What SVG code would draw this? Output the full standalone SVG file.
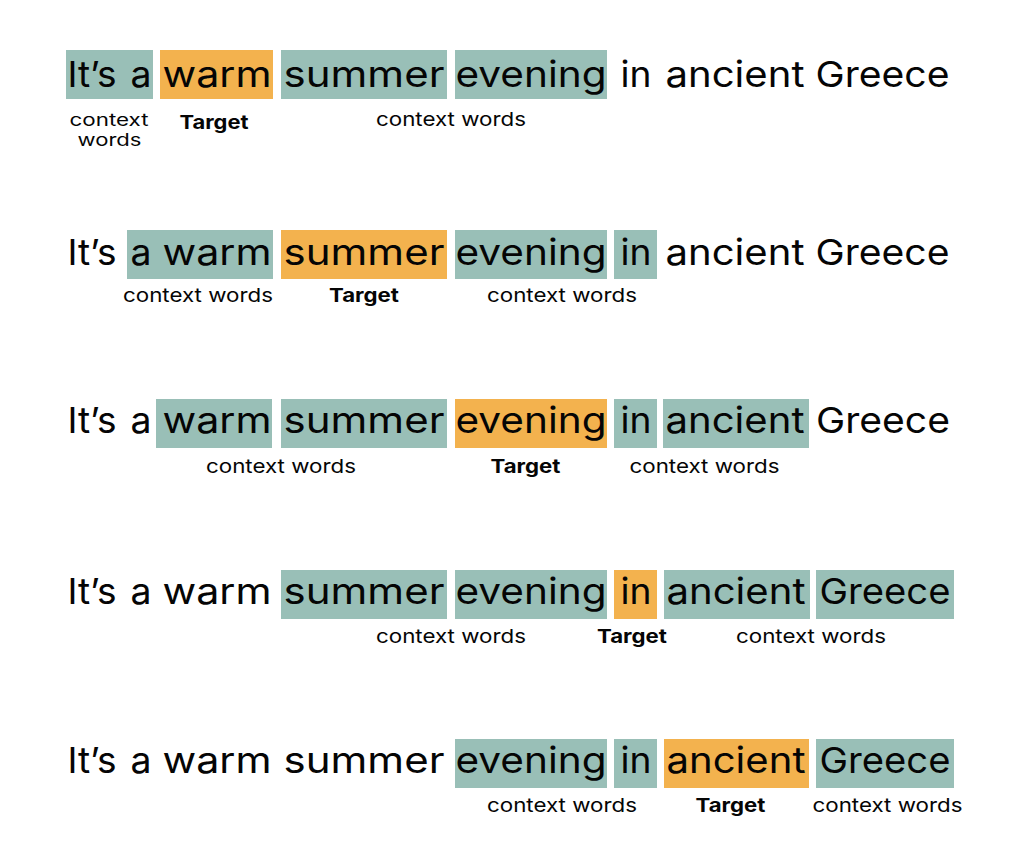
<svg xmlns="http://www.w3.org/2000/svg" width="1024" height="867" viewBox="0 0 1024 867">
<style>
.bg{fill:#ffffff}
.ctx{fill:#99BFB7}
.tgt{fill:#F3B24E}
.w{font-family:Inter,"Open Sans","Liberation Sans",sans-serif;font-size:36px;fill:#050505;text-anchor:middle}
.l{font-family:Inter,"Open Sans","Liberation Sans",sans-serif;font-size:19px;fill:#050505;text-anchor:middle}
.s{font-size:17px}
.b{font-weight:bold}
</style>
<rect class="bg" x="0" y="0" width="1024" height="867"/>

<g id="row1">
<rect class="ctx" x="66" y="50" width="87" height="49"/>
<rect class="tgt" x="160" y="50" width="113" height="49"/>
<rect class="ctx" x="281" y="50" width="166" height="49"/>
<rect class="ctx" x="455" y="50" width="152" height="49"/>
<text class="w" x="92" y="87" textLength="49" lengthAdjust="spacingAndGlyphs">It’s</text>
<text class="w" x="141" y="87" textLength="21" lengthAdjust="spacingAndGlyphs">a</text>
<text class="w" x="217" y="87" textLength="109" lengthAdjust="spacingAndGlyphs">warm</text>
<text class="w" x="364" y="87" textLength="161" lengthAdjust="spacingAndGlyphs">summer</text>
<text class="w" x="531" y="87" textLength="151" lengthAdjust="spacingAndGlyphs">evening</text>
<text class="w" x="636" y="87" textLength="31" lengthAdjust="spacingAndGlyphs">in</text>
<text class="w" x="735" y="87" textLength="139" lengthAdjust="spacingAndGlyphs">ancient</text>
<text class="w" x="882.5" y="87" textLength="134" lengthAdjust="spacingAndGlyphs">Greece</text>
<text class="l s" x="109" y="126" textLength="79" lengthAdjust="spacingAndGlyphs">context</text>
<text class="l s" x="109.5" y="146" textLength="64" lengthAdjust="spacingAndGlyphs">words</text>
<text class="l b" x="214" y="129" textLength="69" lengthAdjust="spacingAndGlyphs">Target</text>
<text class="l" x="451" y="126" textLength="150" lengthAdjust="spacingAndGlyphs">context words</text>
</g>

<g id="row2">
<rect class="ctx" x="127" y="230" width="146" height="49"/>
<rect class="tgt" x="281" y="230" width="166" height="49"/>
<rect class="ctx" x="455" y="230" width="152" height="49"/>
<rect class="ctx" x="614" y="230" width="43" height="49"/>
<text class="w" x="92" y="264.5" textLength="49" lengthAdjust="spacingAndGlyphs">It’s</text>
<text class="w" x="141" y="264.5" textLength="21" lengthAdjust="spacingAndGlyphs">a</text>
<text class="w" x="217" y="264.5" textLength="109" lengthAdjust="spacingAndGlyphs">warm</text>
<text class="w" x="364" y="264.5" textLength="161" lengthAdjust="spacingAndGlyphs">summer</text>
<text class="w" x="531" y="264.5" textLength="151" lengthAdjust="spacingAndGlyphs">evening</text>
<text class="w" x="636" y="264.5" textLength="31" lengthAdjust="spacingAndGlyphs">in</text>
<text class="w" x="735" y="264.5" textLength="139" lengthAdjust="spacingAndGlyphs">ancient</text>
<text class="w" x="882.5" y="264.5" textLength="134" lengthAdjust="spacingAndGlyphs">Greece</text>
<text class="l" x="198" y="302" textLength="150" lengthAdjust="spacingAndGlyphs">context words</text>
<text class="l b" x="364" y="302" textLength="70" lengthAdjust="spacingAndGlyphs">Target</text>
<text class="l" x="562" y="302" textLength="150" lengthAdjust="spacingAndGlyphs">context words</text>
</g>

<g id="row3">
<rect class="ctx" x="156" y="399" width="116" height="49"/>
<rect class="ctx" x="281" y="399" width="166" height="49"/>
<rect class="tgt" x="455" y="399" width="152" height="49"/>
<rect class="ctx" x="614" y="399" width="43" height="49"/>
<rect class="ctx" x="663" y="399" width="146" height="49"/>
<text class="w" x="92" y="433" textLength="49" lengthAdjust="spacingAndGlyphs">It’s</text>
<text class="w" x="141" y="433" textLength="21" lengthAdjust="spacingAndGlyphs">a</text>
<text class="w" x="217" y="433" textLength="109" lengthAdjust="spacingAndGlyphs">warm</text>
<text class="w" x="364" y="433" textLength="161" lengthAdjust="spacingAndGlyphs">summer</text>
<text class="w" x="531" y="433" textLength="151" lengthAdjust="spacingAndGlyphs">evening</text>
<text class="w" x="636" y="433" textLength="31" lengthAdjust="spacingAndGlyphs">in</text>
<text class="w" x="735" y="433" textLength="139" lengthAdjust="spacingAndGlyphs">ancient</text>
<text class="w" x="883" y="433" textLength="134" lengthAdjust="spacingAndGlyphs">Greece</text>
<text class="l" x="281" y="473" textLength="150" lengthAdjust="spacingAndGlyphs">context words</text>
<text class="l b" x="525.5" y="473" textLength="70" lengthAdjust="spacingAndGlyphs">Target</text>
<text class="l" x="704.5" y="473" textLength="150" lengthAdjust="spacingAndGlyphs">context words</text>
</g>

<g id="row4">
<rect class="ctx" x="281" y="570" width="166" height="49"/>
<rect class="ctx" x="455" y="570" width="152" height="49"/>
<rect class="tgt" x="614" y="570" width="43" height="49"/>
<rect class="ctx" x="664" y="570" width="146" height="49"/>
<rect class="ctx" x="816" y="570" width="138" height="49"/>
<text class="w" x="92" y="604" textLength="49" lengthAdjust="spacingAndGlyphs">It’s</text>
<text class="w" x="141" y="604" textLength="21" lengthAdjust="spacingAndGlyphs">a</text>
<text class="w" x="217" y="604" textLength="109" lengthAdjust="spacingAndGlyphs">warm</text>
<text class="w" x="364" y="604" textLength="161" lengthAdjust="spacingAndGlyphs">summer</text>
<text class="w" x="531" y="604" textLength="151" lengthAdjust="spacingAndGlyphs">evening</text>
<text class="w" x="636" y="604" textLength="31" lengthAdjust="spacingAndGlyphs">in</text>
<text class="w" x="736" y="604" textLength="139" lengthAdjust="spacingAndGlyphs">ancient</text>
<text class="w" x="885" y="604" textLength="131" lengthAdjust="spacingAndGlyphs">Greece</text>
<text class="l" x="451" y="643" textLength="150" lengthAdjust="spacingAndGlyphs">context words</text>
<text class="l b" x="632" y="643" textLength="70" lengthAdjust="spacingAndGlyphs">Target</text>
<text class="l" x="811" y="643" textLength="150" lengthAdjust="spacingAndGlyphs">context words</text>
</g>

<g id="row5">
<rect class="ctx" x="455" y="739" width="152" height="49"/>
<rect class="ctx" x="614" y="739" width="43" height="49"/>
<rect class="tgt" x="664" y="739" width="145" height="49"/>
<rect class="ctx" x="816" y="739" width="138" height="49"/>
<text class="w" x="92" y="773" textLength="49" lengthAdjust="spacingAndGlyphs">It’s</text>
<text class="w" x="141" y="773" textLength="21" lengthAdjust="spacingAndGlyphs">a</text>
<text class="w" x="217" y="773" textLength="109" lengthAdjust="spacingAndGlyphs">warm</text>
<text class="w" x="364" y="773" textLength="161" lengthAdjust="spacingAndGlyphs">summer</text>
<text class="w" x="531" y="773" textLength="151" lengthAdjust="spacingAndGlyphs">evening</text>
<text class="w" x="636" y="773" textLength="31" lengthAdjust="spacingAndGlyphs">in</text>
<text class="w" x="736" y="773" textLength="139" lengthAdjust="spacingAndGlyphs">ancient</text>
<text class="w" x="885" y="773" textLength="131" lengthAdjust="spacingAndGlyphs">Greece</text>
<text class="l" x="562" y="812" textLength="150" lengthAdjust="spacingAndGlyphs">context words</text>
<text class="l b" x="730.5" y="812" textLength="70" lengthAdjust="spacingAndGlyphs">Target</text>
<text class="l" x="887.5" y="812" textLength="150" lengthAdjust="spacingAndGlyphs">context words</text>
</g>
</svg>
